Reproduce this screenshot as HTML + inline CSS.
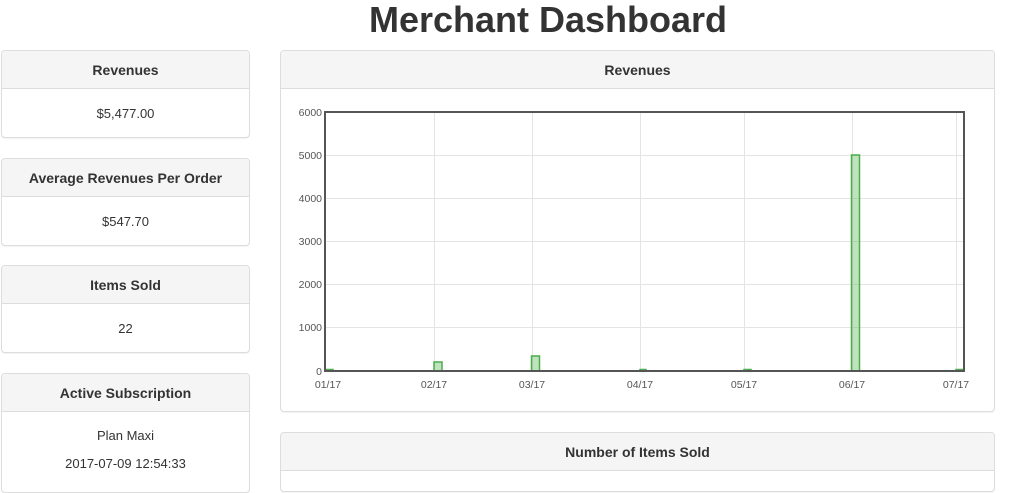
<!DOCTYPE html>
<html><head><meta charset="utf-8"><style>
body{margin:0;width:1024px;height:468px;overflow:hidden;background:#fff;font-family:"Liberation Sans",Arial,sans-serif;color:#333;position:relative}
.t{position:absolute;left:0;width:1096px;top:-1px;text-align:center;font-size:36px;font-weight:bold;color:#333}
.p{position:absolute;border:1px solid #ddd;border-radius:4px;background:#fff;box-sizing:border-box;box-shadow:0 1px 1px rgba(0,0,0,.05)}
.h{height:37px;line-height:38px;background:#f5f5f5;border-bottom:1px solid #ddd;text-align:center;font-size:14px;font-weight:bold;border-radius:4px 4px 0 0}
.b{text-align:center;font-size:13px;padding-top:17px}
svg text{font-family:"Liberation Sans",Arial,sans-serif;font-size:10.5px;fill:#555}
</style></head><body>
<div class="t">Merchant Dashboard</div>
<div class="p" style="left:1px;top:50px;width:249px;height:88px"><div class="h">Revenues</div><div class="b">$5,477.00</div></div>
<div class="p" style="left:1px;top:158px;width:249px;height:88px"><div class="h">Average Revenues Per Order</div><div class="b">$547.70</div></div>
<div class="p" style="left:1px;top:265px;width:249px;height:88px"><div class="h">Items Sold</div><div class="b">22</div></div>
<div class="p" style="left:1px;top:373px;width:249px;height:120px"><div class="h">Active Subscription</div><div class="b" style="line-height:28px;padding-top:10px">Plan Maxi<br>2017-07-09 12:54:33</div></div>
<div class="p" style="left:280px;top:50px;width:715px;height:362px"><div class="h">Revenues</div></div>
<div class="p" style="left:280px;top:432px;width:715px;height:60px"><div class="h">Number of Items Sold</div></div>
<svg style="position:absolute;left:0;top:0" width="1024" height="468">
<g stroke="#e4e4e4" stroke-width="1">
<line x1="325" x2="964" y1="155.5" y2="155.5"/><line x1="325" x2="964" y1="198.5" y2="198.5"/><line x1="325" x2="964" y1="241.5" y2="241.5"/><line x1="325" x2="964" y1="284.5" y2="284.5"/><line x1="325" x2="964" y1="327.5" y2="327.5"/>
<line x1="434.5" x2="434.5" y1="112" y2="371"/><line x1="532.5" x2="532.5" y1="112" y2="371"/><line x1="640.5" x2="640.5" y1="112" y2="371"/><line x1="744.5" x2="744.5" y1="112" y2="371"/><line x1="852.5" x2="852.5" y1="112" y2="371"/><line x1="956.5" x2="956.5" y1="112" y2="371"/>
</g>
<g fill="rgba(92,184,92,.4)" stroke="#4cae4c" stroke-width="1.5">
<rect x="434" y="362" width="8" height="9"/><rect x="531.5" y="356" width="8" height="15"/><rect x="851.5" y="155" width="8" height="216"/>
<rect x="325" y="369.5" width="8" height="1.5"/><rect x="640" y="369.5" width="6" height="1.5"/><rect x="744" y="369.5" width="7" height="1.5"/><rect x="956" y="369.5" width="7" height="1.5"/>
</g>
<rect x="325" y="112" width="639" height="259" fill="none" stroke="#555" stroke-width="2"/>
<g text-anchor="end"><text x="322" y="116">6000</text><text x="322" y="159">5000</text><text x="322" y="202">4000</text><text x="322" y="245">3000</text><text x="322" y="288">2000</text><text x="322" y="331">1000</text><text x="322" y="375">0</text></g>
<g text-anchor="middle"><text x="328" y="388">01/17</text><text x="434" y="388">02/17</text><text x="532" y="388">03/17</text><text x="640" y="388">04/17</text><text x="744" y="388">05/17</text><text x="852" y="388">06/17</text><text x="956" y="388">07/17</text></g>
</svg>
</body></html>
